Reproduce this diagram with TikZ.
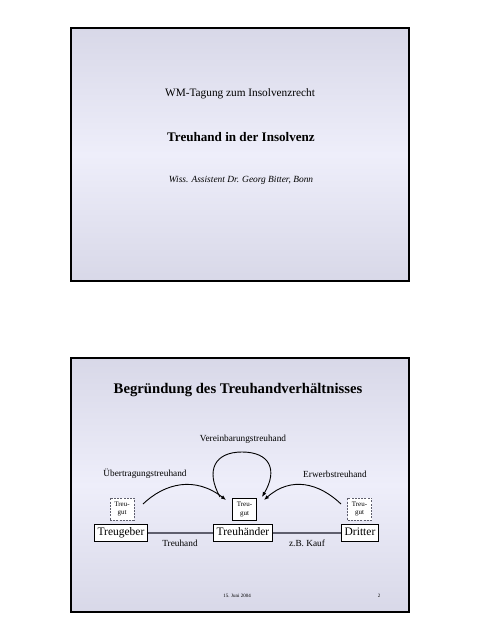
\documentclass[tikz,border=0pt]{standalone}
\usepackage{fontspec}
\setmainfont{Liberation Serif}
\usetikzlibrary{arrows.meta}
\definecolor{slideedge}{RGB}{216,216,232}
\definecolor{slidemid}{RGB}{238,238,250}
\definecolor{linkgray}{RGB}{95,95,110}

\begin{document}
\begin{tikzpicture}[x=1pt, y=-1pt,
    party/.style={draw, line width=0.9pt, fill=white, inner xsep=3pt, inner ysep=3.2pt,
                  text height=8pt, text depth=2.4pt, font=\fontsize{11.5}{13}\selectfont},
    trustgood/.style={draw, line width=0.8pt, fill=white, minimum width=24pt, minimum height=22pt,
                  inner sep=1pt, align=center, font=\fontsize{7}{8.5}\selectfont},
    notetext/.style={font=\fontsize{9.3}{11}\selectfont},
    swingarrow/.style={-{Latex[length=5pt,width=4pt]}, line width=0.9pt}]
            \useasboundingbox (0,0) rectangle (481,640);
            \fill[white] (0,0) rectangle (481,640);

            % First slide
            \shade[top color=slideedge, bottom color=slideedge, middle color=slidemid] (71,28) rectangle (409,281);
            \draw[line width=1.2pt] (71,28) rectangle (409,281);
            \node (event) at (240,94) {\fontsize{11.3}{13}\selectfont WM-Tagung zum Insolvenzrecht};
            \node (talk) at (241,137) {\fontsize{13.1}{15}\selectfont\bfseries Treuhand in der Insolvenz};
            \node (speaker) at (241,180) {\fontsize{9.4}{11}\selectfont\itshape Wiss. Assistent Dr. Georg Bitter, Bonn};

            % Second slide
            \shade[top color=slideedge, bottom color=slideedge, middle color=slidemid] (71,358) rectangle (409,612);
            \draw[line width=1.2pt] (71,358) rectangle (409,612);
            \node (heading) at (238,390) {\fontsize{14.7}{17}\selectfont\bfseries Begründung des Treuhandverhältnisses};

            % Parties and the trust property
            \node[party] (giver) at (121,533) {Treugeber};
            \node[party] (trustee) at (243,533) {Treuhänder};
            \node[party] (third) at (360,533) {Dritter};
            \node[trustgood, dashed, draw=linkgray, dash pattern=on 2pt off 1.2pt] (goodL) at (122,509) {Treu-\\gut};
            \node[trustgood] (goodM) at (244.5,509.5) {Treu-\\gut};
            \node[trustgood, dashed, draw=linkgray, dash pattern=on 2pt off 1.2pt] (goodR) at (359.5,509) {Treu-\\gut};

            % Links between the parties
            \draw[linkgray, line width=1.2pt] (giver) -- (trustee);
            \draw[linkgray, line width=1.2pt] (trustee) -- (third);
            \node[notetext] (deal) at (180,543.5) {Treuhand};
            \node[notetext] (sale) at (307,543.5) {z.B. Kauf};

            % Ways the trust arises
            \node[notetext] (transfer) at (145,474) {Übertragungstreuhand};
            \node[notetext] (agree) at (243,439) {Vereinbarungstreuhand};
            \node[notetext] (acquire) at (335,474) {Erwerbstreuhand};
            \coordinate (fromL) at (143,504);
            \coordinate (toL) at (226,500);
            \coordinate (fromR) at (341,504);
            \coordinate (toR) at (264,500);
            \coordinate (loopA) at (220,497);
            \coordinate (loopB) at (262,497);
            \draw[swingarrow] (fromL) .. controls (165,483) and (195,476) .. (toL);
            \draw[swingarrow] (fromR) .. controls (319,483) and (291,476) .. (toR);
            \draw[swingarrow] (loopA) .. controls (205,470) and (215,452) .. (242,452)
                                .. controls (270,452) and (278,470) .. (loopB);

            % Footer
            \node (date) at (237,596) {\fontsize{5}{6}\selectfont 15. Juni 2004};
            \node (page) at (379,596) {\fontsize{5}{6}\selectfont 2};
        \end{tikzpicture}
\end{document}
